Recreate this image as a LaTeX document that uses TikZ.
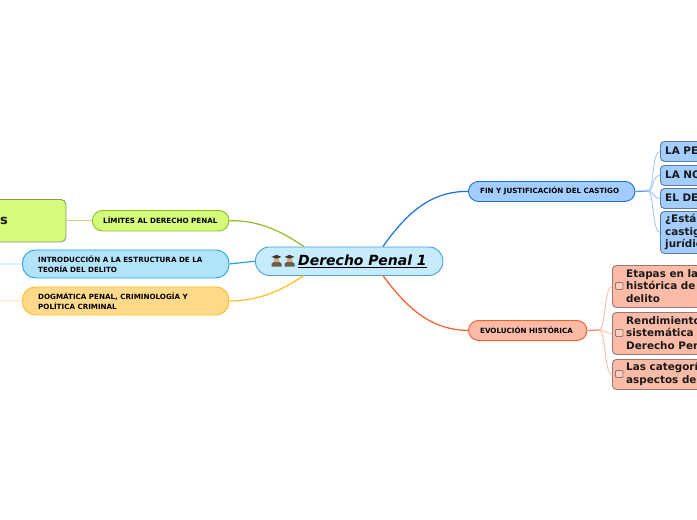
\documentclass[tikz,border=0pt]{standalone}
\usepackage{fontspec}
\setmainfont{DejaVu Sans}
\usetikzlibrary{calc}
\definecolor{rootfill}{HTML}{C5EBFD}\definecolor{rootline}{HTML}{4A9FD8}
\definecolor{gfill}{HTML}{D4FB79}\definecolor{gline}{HTML}{8CBF1F}
\definecolor{cfill}{HTML}{B1E3FB}\definecolor{cline}{HTML}{1CA6E8}
\definecolor{yfill}{HTML}{FFD98A}\definecolor{yline}{HTML}{FFBE1E}
\definecolor{bfill}{HTML}{A3CCFF}\definecolor{bline}{HTML}{1A6FE0}
\definecolor{rfill}{HTML}{FBBBA6}\definecolor{rline}{HTML}{FF5A28}
\definecolor{figbody}{HTML}{6B5F45}\definecolor{figface}{HTML}{E0A878}\definecolor{figcap}{HTML}{3A3A34}
\tikzset{
  x=1pt,y=-1pt,
  boxn/.style={draw,line width=0.9pt,rounded corners=#1,inner sep=0pt},
  branchlabel/.style={font=\fontsize{7.15}{10}\selectfont\bfseries,align=left,anchor=west,black},
  leaflabel/.style={font=\fontsize{10.4}{12.6}\selectfont\bfseries,align=left,anchor=west,black!90},
  link/.style={line width=1.2pt},
  thin link/.style={line width=0.9pt},
  chk/.style={draw=#1,line width=0.9pt,rounded corners=1pt}
}
\begin{document}
\begin{tikzpicture}
\useasboundingbox (0,0) rectangle (697,520);
\clip (0,0) rectangle (697,520);
% --- nodes
\node[boxn=14pt,draw=rootline,fill=rootfill,minimum width=187.5pt,minimum height=28.5pt,anchor=north west] (root) at (255,246.5) {};
\node[boxn=10pt,draw=gline,fill=gfill,minimum width=136.5pt,minimum height=20.5pt,anchor=north west] (lim) at (92,210) {};
\node[boxn=5pt,draw=gline!50!gray,fill=gfill,minimum width=105.5pt,minimum height=42.5pt,anchor=north west] (big) at (-40,199) {};
\node[boxn=13pt,draw=cline,fill=cfill,minimum width=206.5pt,minimum height=28pt,anchor=north west] (intro) at (22,249.5) {};
\node[boxn=13pt,draw=yline,fill=yfill,minimum width=206.5pt,minimum height=28pt,anchor=north west] (dog) at (22,286.5) {};
\node[boxn=10pt,draw=bline,fill=bfill,minimum width=166.5pt,minimum height=20pt,anchor=north west] (fin) at (468,181) {};
\node[boxn=10pt,draw=rline,fill=rfill,minimum width=118.5pt,minimum height=20pt,anchor=north west] (evo) at (468,320) {};
\foreach \n/\y/\h in {b1/141/20,b2/165/20,b3/188/20,b4/211/42}
  \node[boxn=4pt,draw=bline!35!gray,fill=bfill,minimum width=80pt,minimum height=\h pt,anchor=north west] (\n) at (660,\y) {};
\foreach \n/\y/\h in {r1/265/42,r2/312/42,r3/359/30}
  \node[boxn=4pt,draw=rline!15!gray,fill=rfill,minimum width=130pt,minimum height=\h pt,anchor=north west] (\n) at (612,\y) {};
% --- connector end points on the root
\coordinate (rne) at (383,246.5);
\coordinate (rse) at (383,275.5);
\coordinate (rnw) at (304,246.5);
\coordinate (rsw) at (304,275.5);
\coordinate (fanb) at (648,191);
\coordinate (fanr) at (599,330);
\coordinate (edgec) at (0,264);
\coordinate (edgey) at (0,301);
% --- main connectors
\draw[link,bline] (rne) .. controls (410,208) and (435,191) .. (fin.west);
\draw[link,rline] (rse) .. controls (410,313) and (435,330) .. (evo.west);
\draw[link,gline] (rnw) .. controls (285,234) and (262,220) .. (lim.east);
\draw[link,yline] (rsw) .. controls (285,288) and (262,301) .. (dog.east);
\draw[link,cline] (root.west) -- (intro.east);
% --- secondary connectors
\draw[thin link,gline!55] (lim.west) -- (big.east);
\draw[thin link,cline!45] (intro.west) -- (edgec);
\draw[thin link,yline!55] (dog.west) -- (edgey);
\draw[link,bline!75] (fin.east) -- (fanb);
\draw[link,rline!75] (evo.east) -- (fanr);
\foreach \n/\yy in {b1/151,b2/175,b3/198,b4/232}
  \draw[thin link,bline!40] (fanb) .. controls (654,191) and (652,\yy) .. (\n.west);
\foreach \n/\yy in {r1/286,r2/333,r3/374}
  \draw[thin link,rline!40] (fanr) .. controls (606,330) and (604,\yy) .. (\n.west);
% --- labels
\node[font=\fontsize{14}{16}\selectfont\bfseries\itshape,anchor=west,inner sep=0pt] (roottext) at (298,261) {\underline{Derecho Penal 1}};
\node[branchlabel,inner sep=0pt] (limt) at (103,220.5) {LÍMITES AL DERECHO PENAL};
\node[branchlabel,inner sep=0pt] (introt) at (38,264) {INTRODUCCIÓN A LA ESTRUCTURA DE LA\\TEORÍA DEL DELITO};
\node[branchlabel,inner sep=0pt] (dogt) at (38,301) {DOGMÁTICA PENAL, CRIMINOLOGÍA Y\\POLÍTICA CRIMINAL};
\node[branchlabel,inner sep=0pt] (fint) at (480,191) {FIN Y JUSTIFICACIÓN DEL CASTIGO};
\node[branchlabel,inner sep=0pt] (evot) at (480,330.5) {EVOLUCIÓN HISTÓRICA};
\node[leaflabel,inner sep=0pt,font=\fontsize{13}{14}\selectfont\bfseries] (bigt) at (0,221) {s};
\node[leaflabel,inner sep=0pt] (b1t) at (665,151) {LA PE};
\node[leaflabel,inner sep=0pt] (b2t) at (665,174.5) {LA NO};
\node[leaflabel,inner sep=0pt] (b3t) at (665,197.5) {EL DE};
\node[leaflabel,inner sep=0pt] (b4t) at (665,232) {¿Está\\castig\\jurídic};
\node[leaflabel,inner sep=0pt] (r1t) at (626,286) {Etapas en la\\histórica de l\\delito};
\node[leaflabel,inner sep=0pt] (r2t) at (626,333) {Rendimiento\\sistemática t\\Derecho Pen};
\node[leaflabel,inner sep=0pt] (r3t) at (626,374) {Las categoría\\aspectos de};
% --- checkbox marks
\foreach \y in {286,333,374}
  \draw[chk=rline!15!gray,fill=rfill!70!white] (615.5,\y-3.5) rectangle (623,\y+3.5);
% --- two small figures on the root
\foreach \x in {276.5,289.5}{
  \fill[figbody] (\x-5,266.5) -- (\x-5,263.5) -- (\x-2,261.5) -- (\x+2,261.5) -- (\x+5,263.5) -- (\x+5,266.5) -- cycle;
  \fill[figface] (\x,259.5) circle (2.8);
  \fill[figcap] (\x-5,257) -- (\x,254.8) -- (\x+5,257) -- (\x,258.6) -- cycle;
}
\end{tikzpicture}
\end{document}
